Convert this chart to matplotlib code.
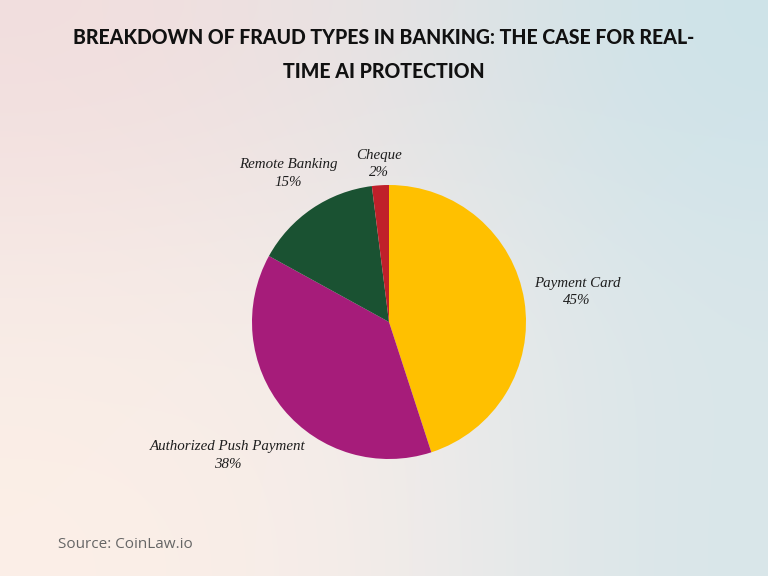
import matplotlib.pyplot as plt
import matplotlib.colors as mcolors
import numpy as np

labels = ['Payment Card', 'Authorized Push Payment', 'Remote Banking', 'Cheque']
shares = [45, 38, 15, 2]
colors = ['#ffc000', '#a61c7a', '#1a5232', '#c0202a']
label_dist = [1.39, 1.53, 1.31, 1.155]

title = 'Breakdown of Fraud Types in Banking: The Case for Real-\nTime AI Protection'
source = 'Source: CoinLaw.io'

fig = plt.figure(figsize=(7.68, 5.76), dpi=100)

# background gradient
bg = fig.add_axes([0, 0, 1, 1], zorder=0)
grid = [['#f2dede', '#e8e3e3', '#cde3e9'],
        ['#f7ebe6', '#f1ece9', '#d9e6ea'],
        ['#fcefe7', '#f5ece9', '#d8e6ea']]
rgb = np.array([[mcolors.to_rgb(c) for c in row] for row in grid])
bg.imshow(rgb, extent=[0, 1, 0, 1], aspect='auto', interpolation='bicubic')
bg.axis('off')

# pie axes, centre ~ (389, 322) px, radius ~137 px
cx, cy, r = 389, 322, 137
ax = fig.add_axes([(cx - r) / 768, (576 - cy - r) / 576, 2 * r / 768, 2 * r / 576], zorder=1)
wedges, texts = ax.pie(shares, colors=colors, startangle=90, counterclock=False,
                       labels=[f'{l}\n{s}%' for l, s in zip(labels, shares)],
                       labeldistance=1.3,
                       wedgeprops=dict(linewidth=0, edgecolor='none'),
                       textprops=dict(family='Liberation Serif', style='italic',
                                      fontsize=10.8, color='#1e1e1e',
                                      ha='center', va='center', linespacing=1.45))
for w, t, d in zip(wedges, texts, label_dist):
    ang = np.deg2rad((w.theta1 + w.theta2) / 2)
    t.set_position((d * np.cos(ang), d * np.sin(ang)))
    t.set_horizontalalignment('center')
    t.set_path_effects([])
ax.set_xlim(-1, 1)
ax.set_ylim(-1, 1)
ax.set_aspect('auto')
ax.axis('off')

# title, shrunk to fit the reference width (~624 px)
lines = title.upper().split('\n')
t1 = fig.text(0.5, 1 - 37 / 576, lines[0], ha='center', va='center',
              family=['Lato', 'DejaVu Sans'], weight='black', fontsize=18, color='#111111')
fig.canvas.draw()
fs = 18 * 624 / t1.get_window_extent().width
t1.set_fontsize(fs)
fig.text(0.5, 1 - 71 / 576, lines[1], ha='center', va='center',
         family=['Lato', 'DejaVu Sans'], weight='black', fontsize=fs, color='#111111')

fig.text(58 / 768, 1 - 544 / 576, source, ha='left', va='center',
         family='Open Sans', fontsize=11, color='#666666')

plt.savefig('out.png', dpi=100)
